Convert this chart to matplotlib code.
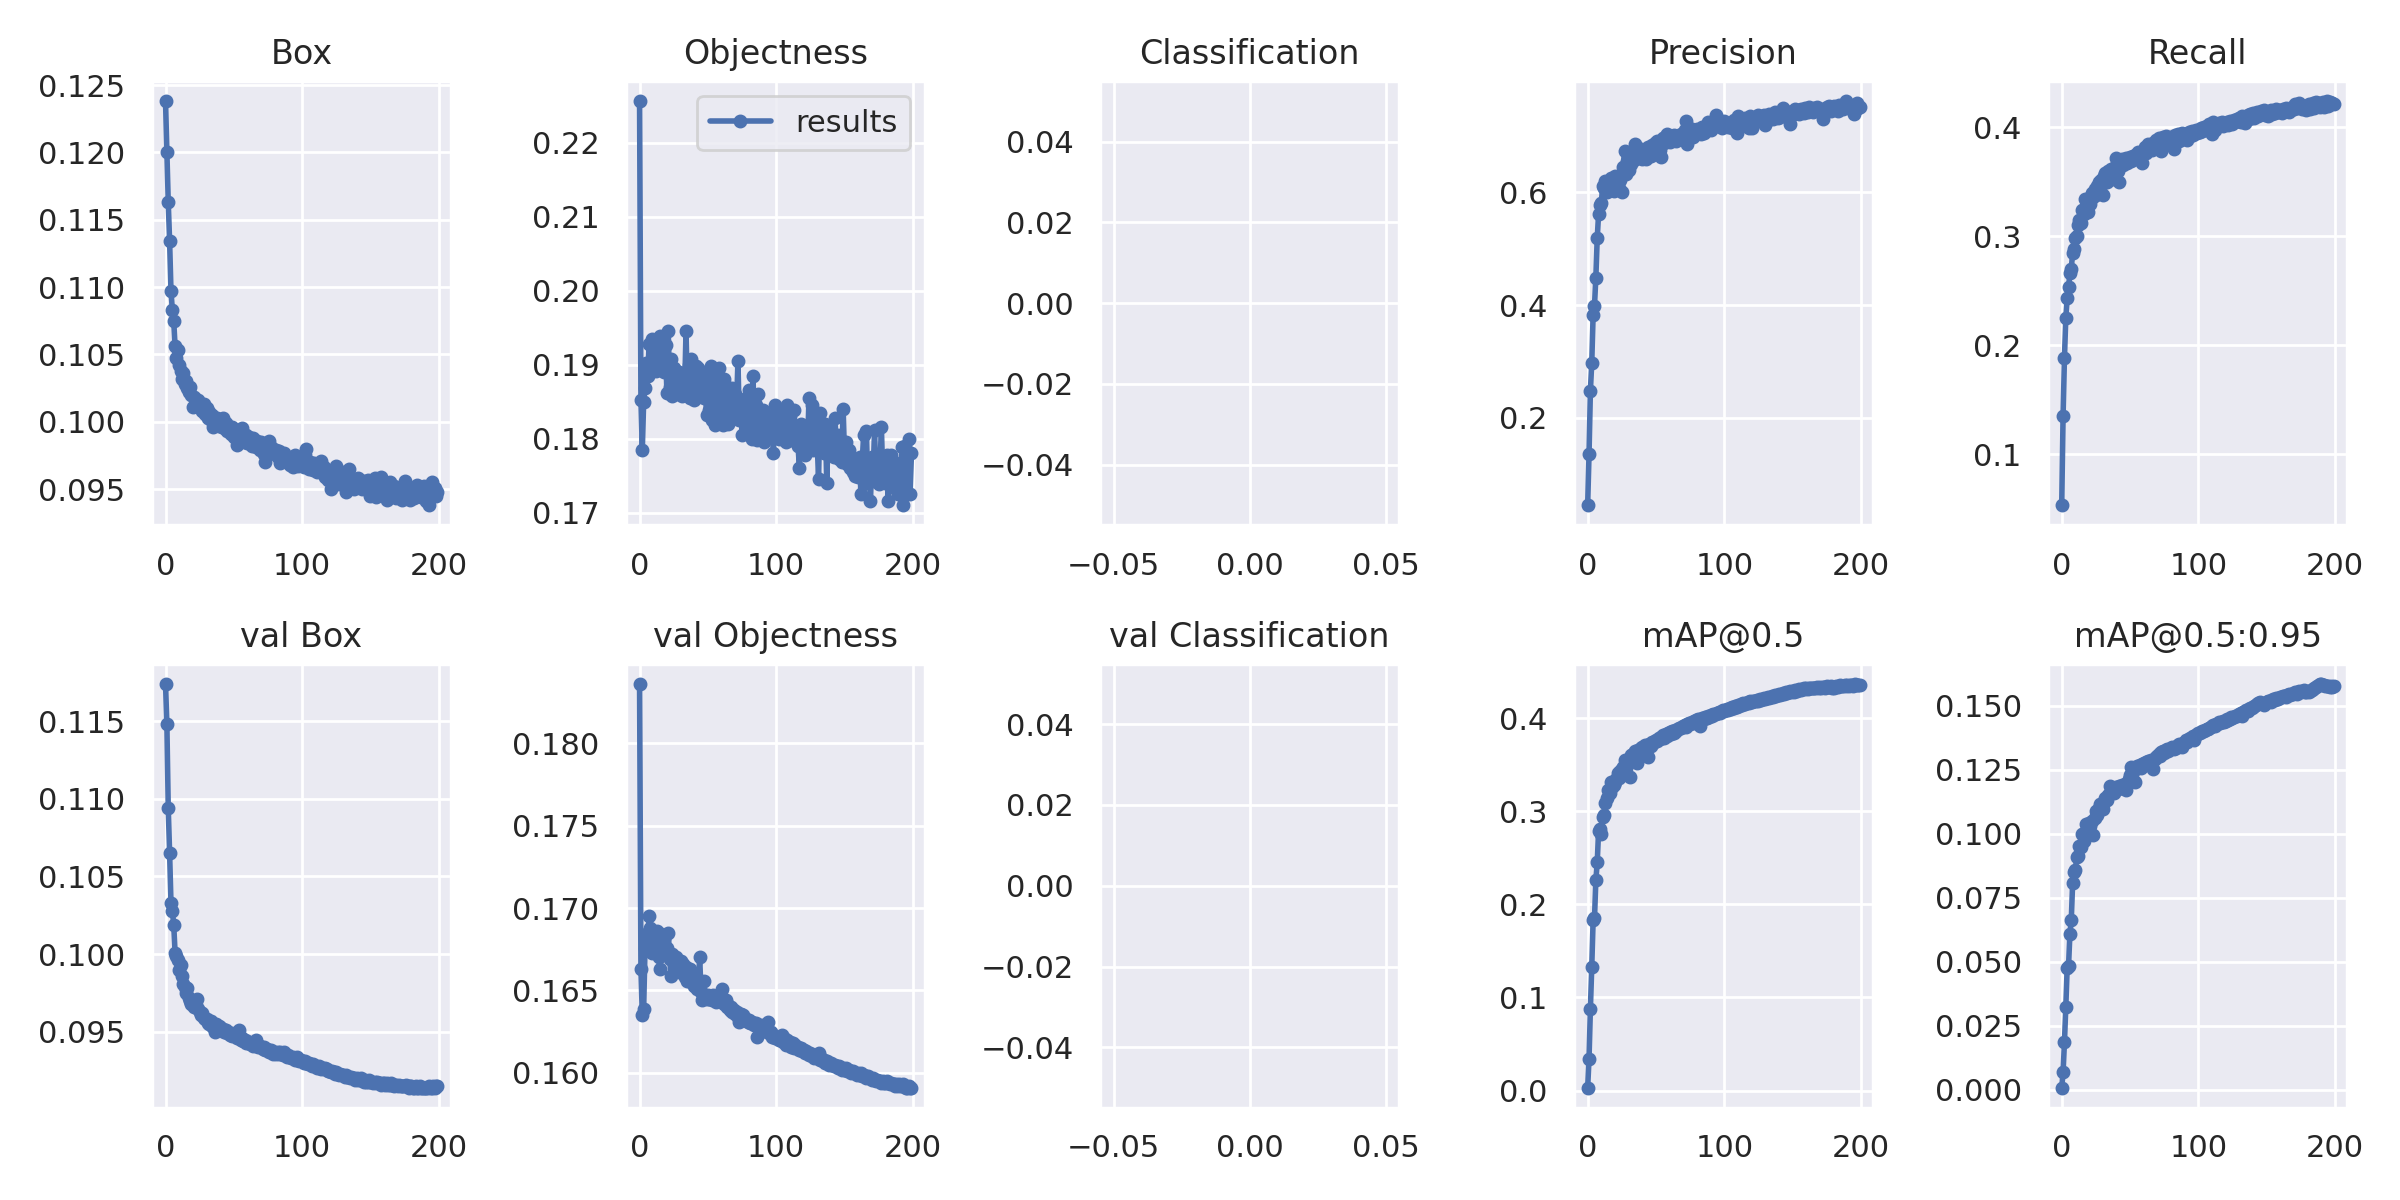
import numpy as np
import matplotlib
matplotlib.use("Agg")
import matplotlib.pyplot as plt
import seaborn as sns

# training curves, one value per epoch (0..199)
box = [
    0.1238, 0.1200, 0.1163, 0.1134, 0.1097, 0.1083, 0.1075, 0.1056, 0.1047, 0.1053,
    0.1042, 0.1038, 0.1032, 0.1036, 0.1028, 0.1030, 0.1025, 0.1022, 0.1026, 0.1020,
    0.1011, 0.1018, 0.1014, 0.1013, 0.1016, 0.1010, 0.1012, 0.1008, 0.1013, 0.1006,
    0.1010, 0.1003, 0.1007, 0.1001, 0.1005, 0.0996, 0.1002, 0.0999, 0.1003, 0.0997,
    0.1000, 0.0996, 0.1003, 0.0995, 0.0999, 0.0993, 0.0997, 0.0994, 0.0991, 0.0996,
    0.0989, 0.0993, 0.0983, 0.0990, 0.0987, 0.0992, 0.0995, 0.0988, 0.0985, 0.0990,
    0.0984, 0.0989, 0.0986, 0.0982, 0.0988, 0.0984, 0.0981, 0.0986, 0.0983, 0.0979,
    0.0985, 0.0980, 0.0976, 0.0970, 0.0983, 0.0978, 0.0986, 0.0981, 0.0977, 0.0980,
    0.0976, 0.0979, 0.0974, 0.0978, 0.0969, 0.0975, 0.0971, 0.0977, 0.0973, 0.0970,
    0.0974, 0.0968, 0.0972, 0.0966, 0.0971, 0.0975, 0.0969, 0.0967, 0.0972, 0.0968,
    0.0970, 0.0966, 0.0975, 0.0980, 0.0968, 0.0965, 0.0970, 0.0967, 0.0964, 0.0969,
    0.0966, 0.0963, 0.0968, 0.0965, 0.0971, 0.0962, 0.0966, 0.0959, 0.0963, 0.0957,
    0.0961, 0.0950, 0.0958, 0.0962, 0.0956, 0.0967, 0.0960, 0.0954, 0.0959, 0.0963,
    0.0957, 0.0952, 0.0948, 0.0960, 0.0965, 0.0955, 0.0958, 0.0953, 0.0950, 0.0956,
    0.0954, 0.0958, 0.0952, 0.0955, 0.0950, 0.0956, 0.0953, 0.0951, 0.0957, 0.0952,
    0.0945, 0.0954, 0.0949, 0.0958, 0.0944, 0.0951, 0.0955, 0.0947, 0.0959, 0.0950,
    0.0946, 0.0953, 0.0942, 0.0948, 0.0955, 0.0950, 0.0945, 0.0952, 0.0947, 0.0943,
    0.0949, 0.0951, 0.0946, 0.0942, 0.0948, 0.0956, 0.0944, 0.0950, 0.0946, 0.0942,
    0.0951, 0.0947, 0.0943, 0.0949, 0.0953, 0.0945, 0.0950, 0.0944, 0.0948, 0.0952,
    0.0946, 0.0941, 0.0949, 0.0938, 0.0950, 0.0955, 0.0947, 0.0951, 0.0945, 0.0948,
]

objectness = [
    0.2256, 0.1852, 0.1785, 0.1850, 0.1868, 0.1902, 0.1885, 0.1928, 0.1898, 0.1935,
    0.1910, 0.1932, 0.1892, 0.1925, 0.1905, 0.1938, 0.1895, 0.1918, 0.1890, 0.1926,
    0.1862, 0.1945, 0.1870, 0.1908, 0.1858, 0.1895, 0.1875, 0.1885, 0.1860, 0.1890,
    0.1872, 0.1858, 0.1882, 0.1866, 0.1945, 0.1862, 0.1900, 0.1855, 0.1908, 0.1870,
    0.1852, 0.1898, 0.1880, 0.1895, 0.1865, 0.1878, 0.1890, 0.1855, 0.1875, 0.1832,
    0.1888, 0.1838, 0.1898, 0.1825, 0.1870, 0.1818, 0.1885, 0.1840, 0.1895, 0.1822,
    0.1862, 0.1818, 0.1880, 0.1835, 0.1870, 0.1820, 0.1850, 0.1830, 0.1868, 0.1838,
    0.1860, 0.1845, 0.1905, 0.1825, 0.1850, 0.1805, 0.1840, 0.1820, 0.1855, 0.1815,
    0.1865, 0.1830, 0.1800, 0.1885, 0.1820, 0.1845, 0.1798, 0.1860, 0.1828, 0.1810,
    0.1838, 0.1795, 0.1825, 0.1815, 0.1808, 0.1830, 0.1812, 0.1822, 0.1780, 0.1845,
    0.1810, 0.1828, 0.1800, 0.1835, 0.1812, 0.1805, 0.1825, 0.1795, 0.1845, 0.1808,
    0.1830, 0.1798, 0.1815, 0.1838, 0.1800, 0.1810, 0.1790, 0.1760, 0.1820, 0.1795,
    0.1805, 0.1778, 0.1812, 0.1790, 0.1855, 0.1800, 0.1845, 0.1785, 0.1830, 0.1810,
    0.1795, 0.1745, 0.1835, 0.1790, 0.1812, 0.1780, 0.1820, 0.1740, 0.1805, 0.1785,
    0.1810, 0.1795, 0.1775, 0.1828, 0.1790, 0.1805, 0.1772, 0.1800, 0.1768, 0.1840,
    0.1778, 0.1795, 0.1765, 0.1785, 0.1760, 0.1775, 0.1755, 0.1770, 0.1750, 0.1765,
    0.1748, 0.1775, 0.1725, 0.1770, 0.1805, 0.1758, 0.1810, 0.1740, 0.1765, 0.1715,
    0.1775, 0.1755, 0.1812, 0.1745, 0.1770, 0.1738, 0.1765, 0.1815, 0.1750, 0.1772,
    0.1740, 0.1778, 0.1715, 0.1760, 0.1778, 0.1735, 0.1768, 0.1745, 0.1755, 0.1725,
    0.1762, 0.1730, 0.1788, 0.1710, 0.1790, 0.1728, 0.1775, 0.1800, 0.1725, 0.1780,
]

# no classification loss was logged (single class), stored as zeros
classification = [0.0] * 200

precision = [
    0.045, 0.135, 0.248, 0.298, 0.383, 0.399, 0.449, 0.519, 0.562, 0.578,
    0.582, 0.612, 0.608, 0.621, 0.600, 0.615, 0.605, 0.625, 0.618, 0.603,
    0.630, 0.612, 0.628, 0.608, 0.622, 0.600, 0.645, 0.673, 0.632, 0.655,
    0.640, 0.662, 0.650, 0.668, 0.658, 0.686, 0.662, 0.672, 0.665, 0.678,
    0.660, 0.675, 0.668, 0.659, 0.680, 0.672, 0.665, 0.684, 0.676, 0.688,
    0.680, 0.692, 0.685, 0.675, 0.663, 0.696, 0.688, 0.700, 0.703, 0.694,
    0.690, 0.698, 0.694, 0.702, 0.696, 0.692, 0.700, 0.697, 0.704, 0.699,
    0.695, 0.710, 0.727, 0.686, 0.705, 0.700, 0.712, 0.698, 0.708, 0.703,
    0.713, 0.706, 0.710, 0.704, 0.716, 0.705, 0.712, 0.720, 0.725, 0.714,
    0.710, 0.722, 0.716, 0.728, 0.737, 0.718, 0.724, 0.720, 0.715, 0.722,
    0.726, 0.718, 0.722, 0.716, 0.724, 0.720, 0.714, 0.728, 0.712, 0.706,
    0.735, 0.722, 0.730, 0.718, 0.727, 0.733, 0.724, 0.729, 0.715, 0.736,
    0.714, 0.731, 0.726, 0.733, 0.728, 0.737, 0.730, 0.734, 0.725, 0.738,
    0.720, 0.735, 0.729, 0.740, 0.733, 0.738, 0.730, 0.742, 0.736, 0.732,
    0.739, 0.734, 0.744, 0.750, 0.737, 0.741, 0.735, 0.743, 0.722, 0.738,
    0.745, 0.740, 0.748, 0.742, 0.747, 0.739, 0.749, 0.744, 0.741, 0.750,
    0.746, 0.743, 0.751, 0.745, 0.748, 0.742, 0.750, 0.747, 0.752, 0.746,
    0.744, 0.749, 0.730, 0.748, 0.743, 0.751, 0.747, 0.753, 0.745, 0.750,
    0.754, 0.748, 0.752, 0.745, 0.756, 0.750, 0.753, 0.748, 0.755, 0.762,
    0.757, 0.751, 0.756, 0.749, 0.754, 0.740, 0.753, 0.758, 0.750, 0.752,
]

recall = [
    0.053, 0.135, 0.188, 0.225, 0.243, 0.253, 0.266, 0.270, 0.285, 0.288,
    0.298, 0.300, 0.310, 0.315, 0.312, 0.324, 0.320, 0.334, 0.328, 0.322,
    0.335, 0.330, 0.340, 0.336, 0.343, 0.338, 0.346, 0.350, 0.344, 0.352,
    0.338, 0.355, 0.358, 0.350, 0.360, 0.356, 0.362, 0.353, 0.358, 0.364,
    0.372, 0.360, 0.350, 0.368, 0.371, 0.365, 0.369, 0.372, 0.367, 0.370,
    0.373, 0.369, 0.374, 0.371, 0.375, 0.372, 0.377, 0.370, 0.376, 0.367,
    0.378, 0.382, 0.376, 0.385, 0.380, 0.383, 0.379, 0.386, 0.382, 0.388,
    0.384, 0.390, 0.386, 0.378, 0.391, 0.387, 0.392, 0.388, 0.390, 0.386,
    0.391, 0.387, 0.380, 0.393, 0.389, 0.394, 0.387, 0.392, 0.395, 0.389,
    0.394, 0.390, 0.388, 0.396, 0.392, 0.397, 0.393, 0.396, 0.398, 0.395,
    0.398, 0.396, 0.399, 0.397, 0.400, 0.398, 0.401, 0.399, 0.403, 0.400,
    0.394, 0.405, 0.398, 0.403, 0.401, 0.404, 0.402, 0.405, 0.401, 0.404,
    0.403, 0.405, 0.402, 0.406, 0.404, 0.403, 0.407, 0.405, 0.408, 0.406,
    0.409, 0.405, 0.410, 0.407, 0.404, 0.409, 0.411, 0.408, 0.412, 0.410,
    0.413, 0.409, 0.411, 0.414, 0.410, 0.412, 0.415, 0.413, 0.416, 0.411,
    0.414, 0.410, 0.413, 0.416, 0.412, 0.415, 0.413, 0.417, 0.414, 0.416,
    0.415, 0.413, 0.417, 0.415, 0.418, 0.416, 0.414, 0.418, 0.416, 0.419,
    0.417, 0.421, 0.418, 0.420, 0.422, 0.419, 0.417, 0.420, 0.418, 0.416,
    0.419, 0.421, 0.417, 0.420, 0.422, 0.418, 0.423, 0.420, 0.422, 0.419,
    0.421, 0.423, 0.419, 0.422, 0.424, 0.420, 0.423, 0.421, 0.422, 0.421,
]

val_box = [
    0.1174, 0.1148, 0.1094, 0.1065, 0.1033, 0.1028, 0.1019, 0.1001, 0.0999, 0.0996,
    0.0990, 0.0993, 0.0986, 0.0981, 0.0979, 0.0975, 0.0978, 0.0972, 0.0970, 0.0968,
    0.0969, 0.0966, 0.0967, 0.0971, 0.0965, 0.0963, 0.0961, 0.0962, 0.0959, 0.0958,
    0.0958, 0.0956, 0.0955, 0.0957, 0.0954, 0.0953, 0.0950, 0.0955, 0.0952, 0.0954,
    0.0953, 0.0951, 0.0952, 0.0950, 0.0951, 0.0949, 0.0950, 0.0948, 0.0949, 0.0947,
    0.0948, 0.0949, 0.0946, 0.0947, 0.0951, 0.0945, 0.0946, 0.0944, 0.0945, 0.0943,
    0.0944, 0.0943, 0.0942, 0.0943, 0.0941, 0.0942, 0.0945, 0.0941, 0.0940, 0.0941,
    0.0940, 0.0939, 0.0940, 0.0938, 0.0939, 0.0938, 0.0937, 0.0938, 0.0937, 0.0936,
    0.0937, 0.0936, 0.0937, 0.0936, 0.0937, 0.0936, 0.0935, 0.0937, 0.0935, 0.0934,
    0.0935, 0.0934, 0.0933, 0.0934, 0.0933, 0.0932, 0.0934, 0.0932, 0.0931, 0.0932,
    0.0931, 0.0930, 0.0931, 0.0930, 0.0929, 0.0930, 0.0929, 0.0928, 0.0929, 0.0928,
    0.0928, 0.0927, 0.0928, 0.0927, 0.0926, 0.0927, 0.0926, 0.0927, 0.0926, 0.0925,
    0.0925, 0.0924, 0.0925, 0.0924, 0.0923, 0.0924, 0.0923, 0.0922, 0.0923, 0.0922,
    0.0922, 0.0921, 0.0922, 0.0921, 0.0921, 0.0920, 0.0921, 0.0920, 0.0920, 0.0919,
    0.0920, 0.0919, 0.0919, 0.0920, 0.0919, 0.0918, 0.0919, 0.0918, 0.0918, 0.0919,
    0.0918, 0.0918, 0.0917, 0.0918, 0.0917, 0.0918, 0.0917, 0.0917, 0.0916, 0.0917,
    0.0917, 0.0916, 0.0917, 0.0916, 0.0916, 0.0917, 0.0916, 0.0915, 0.0916, 0.0916,
    0.0915, 0.0916, 0.0915, 0.0915, 0.0915, 0.0915, 0.0916, 0.0915, 0.0914, 0.0915,
    0.0915, 0.0914, 0.0914, 0.0915, 0.0914, 0.0914, 0.0915, 0.0914, 0.0914, 0.0914,
    0.0914, 0.0914, 0.0914, 0.0915, 0.0914, 0.0914, 0.0915, 0.0914, 0.0915, 0.0915,
]

val_objectness = [
    0.1836, 0.1663, 0.1635, 0.1639, 0.1676, 0.1684, 0.1679, 0.1695, 0.1688, 0.1673,
    0.1683, 0.1678, 0.1675, 0.1686, 0.1670, 0.1663, 0.1684, 0.1677, 0.1681, 0.1672,
    0.1676, 0.1685, 0.1669, 0.1659, 0.1672, 0.1667, 0.1663, 0.1670, 0.1666, 0.1661,
    0.1668, 0.1662, 0.1666, 0.1658, 0.1664, 0.1656, 0.1661, 0.1663, 0.1655, 0.1659,
    0.1653, 0.1658, 0.1651, 0.1654, 0.1670, 0.1649, 0.1644, 0.1656, 0.1647, 0.1645,
    0.1647, 0.1645, 0.1646, 0.1644, 0.1647, 0.1645, 0.1643, 0.1646, 0.1644, 0.1648,
    0.1651, 0.1645, 0.1642, 0.1644, 0.1640, 0.1641, 0.1638, 0.1640, 0.1637, 0.1638,
    0.1636, 0.1637, 0.1634, 0.1631, 0.1636, 0.1634, 0.1635, 0.1632, 0.1633, 0.1631,
    0.1632, 0.1630, 0.1631, 0.1630, 0.1629, 0.1630, 0.1622, 0.1628, 0.1627, 0.1629,
    0.1627, 0.1628, 0.1626, 0.1625, 0.1631, 0.1624, 0.1625, 0.1622, 0.1623, 0.1621,
    0.1622, 0.1621, 0.1620, 0.1621, 0.1623, 0.1619, 0.1621, 0.1617, 0.1620, 0.1618,
    0.1619, 0.1616, 0.1618, 0.1615, 0.1617, 0.1615, 0.1616, 0.1614, 0.1615, 0.1613,
    0.1614, 0.1612, 0.1613, 0.1612, 0.1611, 0.1612, 0.1610, 0.1611, 0.1609, 0.1610,
    0.1609, 0.1612, 0.1608, 0.1609, 0.1607, 0.1608, 0.1606, 0.1607, 0.1606, 0.1605,
    0.1606, 0.1605, 0.1604, 0.1605, 0.1604, 0.1603, 0.1604, 0.1603, 0.1602, 0.1603,
    0.1602, 0.1603, 0.1601, 0.1602, 0.1601, 0.1600, 0.1601, 0.1600, 0.1600, 0.1599,
    0.1600, 0.1599, 0.1600, 0.1598, 0.1599, 0.1598, 0.1597, 0.1598, 0.1597, 0.1597,
    0.1596, 0.1597, 0.1596, 0.1595, 0.1596, 0.1595, 0.1595, 0.1594, 0.1595, 0.1594,
    0.1594, 0.1595, 0.1594, 0.1593, 0.1594, 0.1593, 0.1593, 0.1592, 0.1593, 0.1592,
    0.1593, 0.1592, 0.1592, 0.1593, 0.1592, 0.1591, 0.1591, 0.1592, 0.1591, 0.1591,
]

val_classification = [0.0] * 200

map50 = [
    0.003, 0.034, 0.088, 0.133, 0.183, 0.185, 0.226, 0.245, 0.279, 0.281,
    0.276, 0.294, 0.296, 0.309, 0.314, 0.323, 0.320, 0.332, 0.326, 0.328,
    0.331, 0.335, 0.341, 0.336, 0.343, 0.345, 0.348, 0.355, 0.350, 0.353,
    0.356, 0.337, 0.360, 0.362, 0.358, 0.365, 0.352, 0.366, 0.364, 0.368,
    0.369, 0.367, 0.371, 0.366, 0.358, 0.372, 0.370, 0.374, 0.373, 0.376,
    0.377, 0.375, 0.379, 0.378, 0.380, 0.382, 0.379, 0.383, 0.381, 0.384,
    0.385, 0.383, 0.386, 0.384, 0.387, 0.386, 0.388, 0.390, 0.389, 0.391,
    0.392, 0.393, 0.391, 0.394, 0.395, 0.394, 0.396, 0.395, 0.397, 0.398,
    0.397, 0.399, 0.392, 0.398, 0.400, 0.399, 0.401, 0.400, 0.402, 0.401,
    0.403, 0.402, 0.404, 0.405, 0.404, 0.406, 0.407, 0.406, 0.408, 0.409,
    0.408, 0.409, 0.410, 0.409, 0.411, 0.410, 0.412, 0.411, 0.413, 0.412,
    0.414, 0.413, 0.415, 0.414, 0.416, 0.415, 0.416, 0.417, 0.416, 0.418,
    0.417, 0.418, 0.419, 0.418, 0.420, 0.419, 0.421, 0.420, 0.421, 0.422,
    0.421, 0.422, 0.423, 0.422, 0.423, 0.424, 0.423, 0.425, 0.424, 0.425,
    0.426, 0.425, 0.426, 0.427, 0.426, 0.428, 0.427, 0.428, 0.429, 0.428,
    0.429, 0.428, 0.430, 0.429, 0.430, 0.431, 0.430, 0.431, 0.432, 0.431,
    0.432, 0.431, 0.432, 0.433, 0.432, 0.433, 0.432, 0.433, 0.434, 0.433,
    0.434, 0.433, 0.434, 0.434, 0.433, 0.435, 0.434, 0.434, 0.435, 0.433,
    0.432, 0.434, 0.435, 0.434, 0.435, 0.436, 0.435, 0.435, 0.436, 0.435,
    0.436, 0.435, 0.436, 0.436, 0.435, 0.436, 0.437, 0.436, 0.436, 0.436,
]

map50_95 = [
    0.0007, 0.0067, 0.0185, 0.0323, 0.0477, 0.0483, 0.0608, 0.0663, 0.0808, 0.0852,
    0.0858, 0.0907, 0.0912, 0.0951, 0.0948, 0.1000, 0.0970, 0.1005, 0.1036, 0.1012,
    0.1042, 0.1030, 0.1048, 0.0993, 0.1060, 0.1090, 0.1075, 0.1102, 0.1118, 0.1108,
    0.1098, 0.1125, 0.1140, 0.1132, 0.1150, 0.1185, 0.1165, 0.1178, 0.1160, 0.1180,
    0.1182, 0.1175, 0.1188, 0.1179, 0.1192, 0.1186, 0.1195, 0.1170, 0.1200, 0.1215,
    0.1230, 0.1262, 0.1240, 0.1255, 0.1201, 0.1265, 0.1262, 0.1268, 0.1258, 0.1272,
    0.1276, 0.1270, 0.1282, 0.1285, 0.1279, 0.1288, 0.1280, 0.1253, 0.1292, 0.1298,
    0.1302, 0.1310, 0.1305, 0.1318, 0.1322, 0.1315, 0.1328, 0.1330, 0.1325, 0.1333,
    0.1335, 0.1338, 0.1332, 0.1340, 0.1336, 0.1345, 0.1350, 0.1342, 0.1338, 0.1355,
    0.1360, 0.1365, 0.1358, 0.1370, 0.1375, 0.1372, 0.1380, 0.1365, 0.1385, 0.1390,
    0.1395, 0.1392, 0.1398, 0.1402, 0.1400, 0.1405, 0.1410, 0.1408, 0.1412, 0.1418,
    0.1420, 0.1424, 0.1422, 0.1428, 0.1430, 0.1435, 0.1432, 0.1438, 0.1440, 0.1436,
    0.1442, 0.1448, 0.1445, 0.1450, 0.1455, 0.1452, 0.1458, 0.1462, 0.1460, 0.1465,
    0.1468, 0.1472, 0.1462, 0.1475, 0.1478, 0.1482, 0.1480, 0.1486, 0.1490, 0.1492,
    0.1495, 0.1498, 0.1502, 0.1506, 0.1510, 0.1515, 0.1512, 0.1508, 0.1505, 0.1510,
    0.1516, 0.1520, 0.1518, 0.1515, 0.1522, 0.1526, 0.1524, 0.1530, 0.1528, 0.1532,
    0.1536, 0.1534, 0.1538, 0.1540, 0.1536, 0.1542, 0.1545, 0.1543, 0.1548, 0.1546,
    0.1550, 0.1552, 0.1548, 0.1555, 0.1558, 0.1554, 0.1556, 0.1560, 0.1552, 0.1555,
    0.1556, 0.1553, 0.1558, 0.1562, 0.1565, 0.1570, 0.1574, 0.1578, 0.1582, 0.1585,
    0.1586, 0.1580, 0.1583, 0.1579, 0.1576, 0.1578, 0.1575, 0.1577, 0.1574, 0.1576,
]

titles = ["Box", "Objectness", "Classification", "Precision", "Recall",
          "val Box", "val Objectness", "val Classification", "mAP@0.5", "mAP@0.5:0.95"]
series = [box, objectness, classification, precision, recall,
          val_box, val_objectness, val_classification, map50, map50_95]
loss_panels = [0, 1, 2, 5, 6, 7]


def main():
    sns.set_theme()  # darkgrid, notebook context

    fig, ax = plt.subplots(2, 5, figsize=(12, 6))
    fig.subplots_adjust(left=0.0633, right=0.978, bottom=0.0767, top=0.9325,
                        wspace=0.585, hspace=0.311)
    ax = ax.ravel()

    for i, (title, values) in enumerate(zip(titles, series)):
        y = np.array(values, dtype=float)
        x = np.arange(len(y))
        if i in loss_panels:
            y[y == 0] = np.nan  # don't show zero loss values
        ax[i].plot(x, y, marker=".", label="results", linewidth=2, markersize=8)
        ax[i].set_title(title)

    ax[1].legend()
    fig.savefig("out.png", dpi=200)
    plt.close(fig)


if __name__ == "__main__":
    main()
